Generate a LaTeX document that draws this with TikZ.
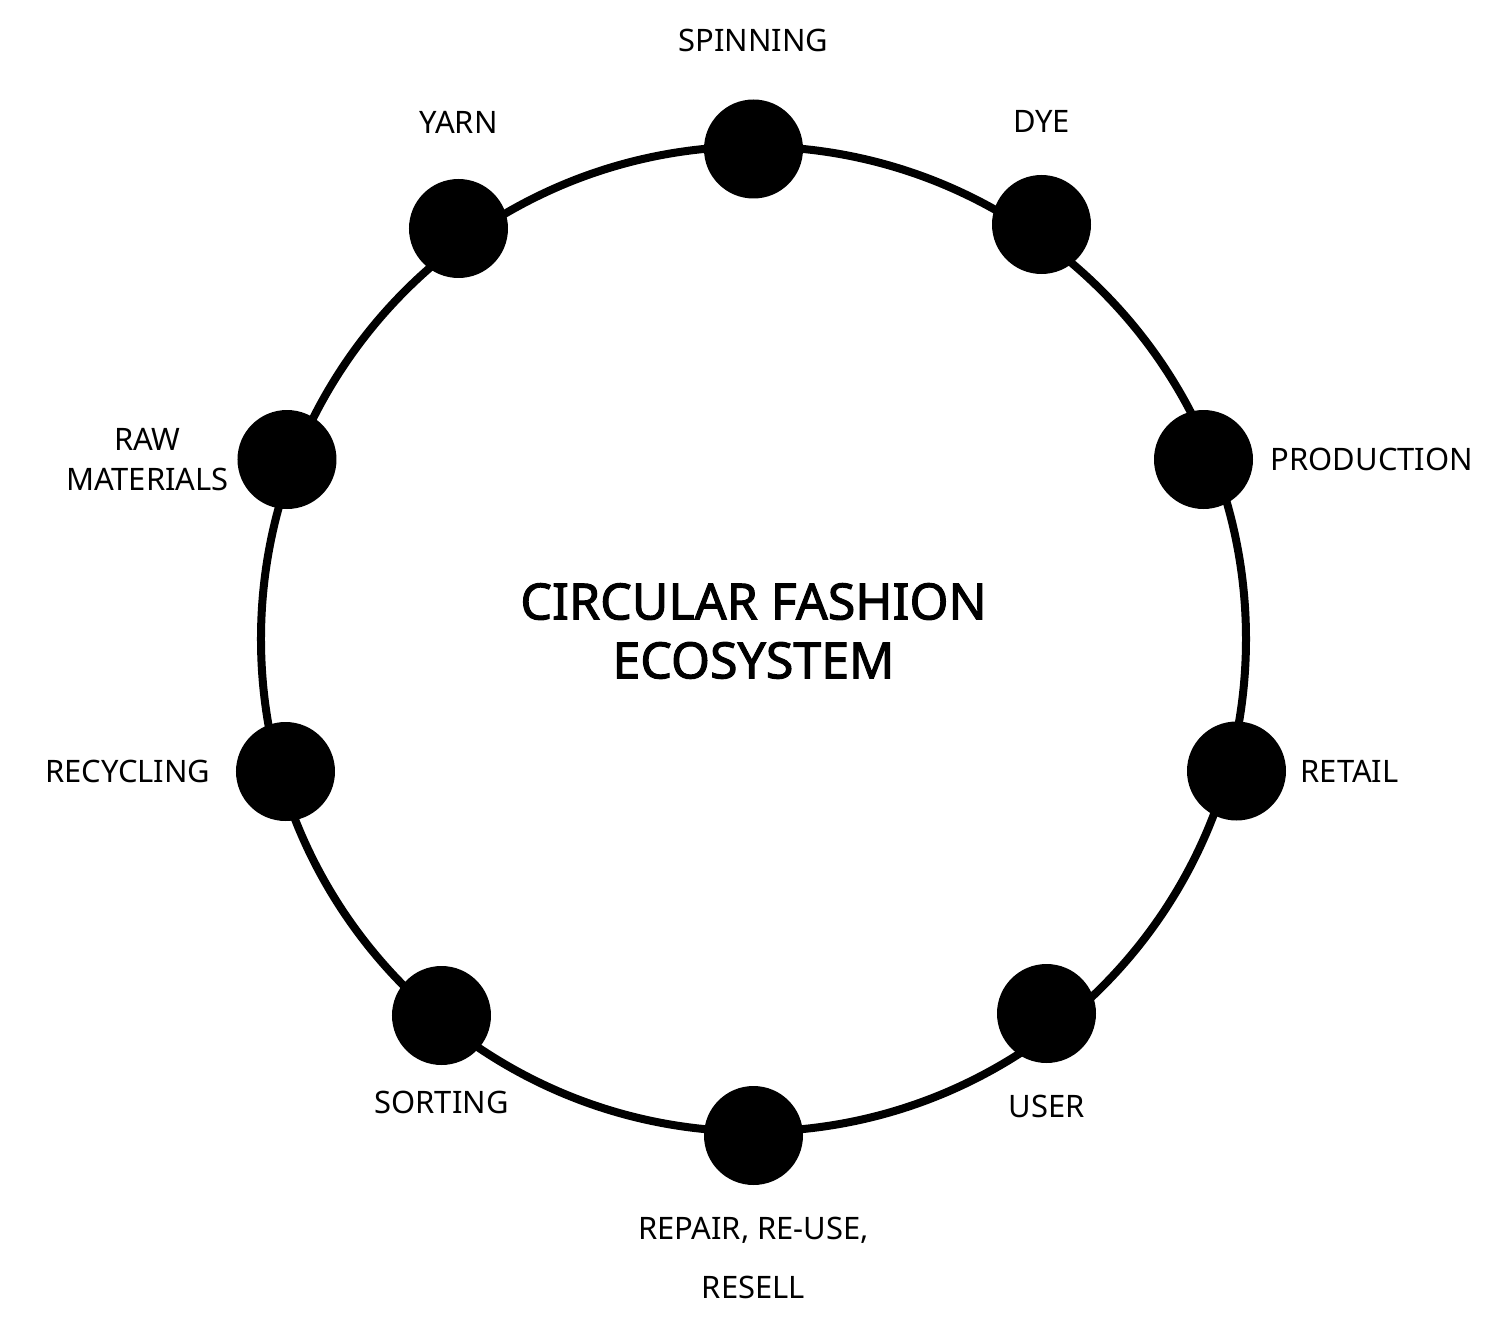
\documentclass[tikz,border=0pt]{standalone}
\usepackage{fontspec}
\setmainfont{Noto Sans}
\newfontfamily\titlefont{Noto Sans}[FakeBold=2]
\usepackage{tikz}
\usetikzlibrary{positioning}

\tikzset{
  stage/.style={circle, fill=black, minimum size=1.98cm, inner sep=0pt},
  stagelabel/.style={inner sep=0pt, font=\fontsize{17.6}{22.5}\selectfont, align=center},
}

\begin{document}
\begin{tikzpicture}
        \useasboundingbox (-15.07,-13.74) rectangle (15.01,12.78);
        \draw[line width=.16cm] (0,0) circle (9.85cm);
        \foreach \x/\y/\name in {0/9.8/spin, 5.76/8.29/dye, 9/3.59/prod, 9.66/-2.64/retail, 5.86/-7.49/user,
                                 0/-9.93/repair, -6.24/-7.53/sort, -9.36/-2.65/recyc, -9.33/3.59/raw, -5.9/8.21/yarn}{
          \node[stage] (\name) at (\x, \y) {};
          }
        \node[stagelabel, above=.94cm of spin] (spinlabel) {SPINNING};
        \node[stagelabel, above=.84cm of dye] (dyelabel) {DYE};
        \node[stagelabel, right=.34cm of prod] (prodlabel) {PRODUCTION};
        \node[stagelabel, right=.28cm of retail] (retaillabel) {RETAIL};
        \node[stagelabel, below=.62cm of user] (userlabel) {USER};
        \node[stagelabel, below=.62cm of repair, font=\fontsize{17.6}{34}\selectfont] (repairlabel) {REPAIR, RE-USE,\\RESELL};
        \node[stagelabel, below=.5cm of sort] (sortlabel) {SORTING};
        \node[stagelabel, left=.5cm of recyc] (recyclabel) {RECYCLING};
        \node[stagelabel, left=.16cm of raw] (rawlabel) {RAW\\MATERIALS};
        \node[stagelabel, above=.9cm of yarn] (yarnlabel) {YARN};
        % centre title
        \node[align=center, font=\titlefont\fontsize{28.5}{33.5}\selectfont] (title) at (0,.16) {CIRCULAR FASHION\\ECOSYSTEM};
      \end{tikzpicture}
\end{document}
